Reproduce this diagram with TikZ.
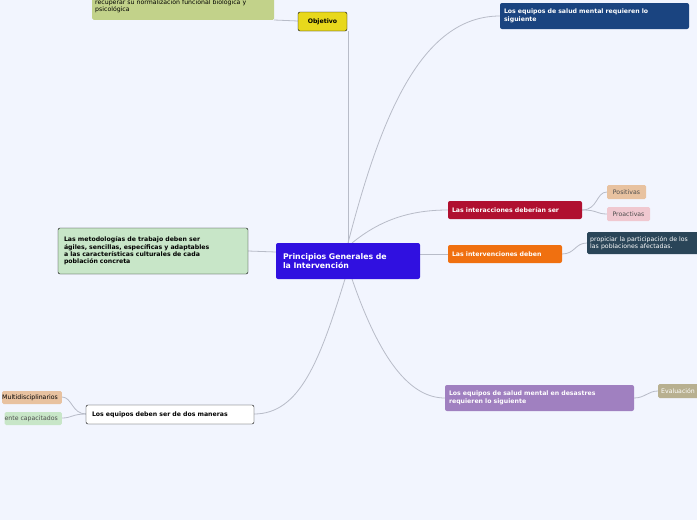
\documentclass[tikz,border=0pt]{standalone}
\usepackage{fontspec}
\setmainfont{DejaVu Sans}
\definecolor{bgc}{HTML}{F2F5FE}
\definecolor{linec}{HTML}{B8BCC8}
\definecolor{centroc}{HTML}{3010E0}
\definecolor{amarillo}{HTML}{E8D81C}
\definecolor{verdeoliva}{HTML}{C2D28A}
\definecolor{azuloscuro}{HTML}{1A4480}
\definecolor{rojo}{HTML}{B01030}
\definecolor{durazno}{HTML}{E8C2A0}
\definecolor{rosa}{HTML}{F0C8D0}
\definecolor{naranja}{HTML}{F07010}
\definecolor{pizarra}{HTML}{2A4558}
\definecolor{lila}{HTML}{A080C0}
\definecolor{caqui}{HTML}{B8B090}
\definecolor{verdeclaro}{HTML}{C8E6C8}
\tikzset{
  topic/.style={rounded corners=2pt, inner sep=0pt, font=\fontsize{6.2}{7.4}\selectfont\bfseries, align=left},
  leaf/.style={rounded corners=1.5pt, inner sep=0pt, font=\fontsize{6.2}{7.4}\selectfont, align=left},
  link/.style={draw=linec, line width=0.8pt}
}
\begin{document}
\begin{tikzpicture}[x=1pt, y=-1pt]
    \useasboundingbox[fill=bgc] (0,0) rectangle (697,520);
    \clip (0,0) rectangle (697,520);

    % connectors
    \draw[link] (348,243) -- (348,31);
    \draw[link] (348,243) .. controls (380,120) and (420,16) .. (500,16);
    \draw[link] (352,243) .. controls (380,220) and (410,210) .. (448,210);
    \draw[link] (420,254) -- (448,254);
    \draw[link] (352,279) .. controls (380,360) and (410,398) .. (445,398);
    \draw[link] (345,279) .. controls (320,360) and (300,414) .. (254,414);
    \draw[link] (276,252) -- (248,251);
    \draw[link] (298,21) -- (274,20);
    \draw[link] (582,210) .. controls (598,210) and (596,192) .. (607,192);
    \draw[link] (582,210) .. controls (598,210) and (596,214) .. (607,214);
    \draw[link] (562,254) .. controls (575,254) and (575,243) .. (587,243);
    \draw[link] (634,398) .. controls (645,398) and (648,391) .. (658,391);
    \draw[link] (86,414) .. controls (72,414) and (72,397) .. (62,397);
    \draw[link] (86,414) .. controls (72,414) and (72,418) .. (62,418);

    % main topic
    \node[topic, fill=centroc, text=white, minimum width=144pt, minimum height=36pt,
          text width=130pt, font=\fontsize{7.8}{9.2}\selectfont\bfseries] (centro) at (348,261)
          {Principios Generales de\\la Intervención};

    % branches
    \node[topic, fill=amarillo, draw=black, minimum width=49pt, minimum height=19pt, align=center] (objetivo) at (322.5,21.5) {Objetivo};
    \node[leaf, fill=verdeoliva, minimum width=182pt, minimum height=30pt, text width=176pt, anchor=south west] (recuperar) at (92,20)
          {\\recuperar su normalización funcional biológica y\\psicológica\vphantom{g}};
    \node[topic, fill=azuloscuro, text=white, minimum width=189pt, minimum height=26pt, text width=181pt] (equiposreq) at (594.5,16)
          {Los equipos de salud mental requieren lo\\siguiente};
    \node[topic, fill=rojo, text=white, minimum width=134pt, minimum height=18pt, text width=126pt] (interacciones) at (515,210)
          {Las interacciones deberían ser};
    \node[leaf, fill=durazno, text=black!70, minimum width=39pt, minimum height=14pt, align=center] (positivas) at (626.5,192) {Positivas};
    \node[leaf, fill=rosa, text=black!70, minimum width=43pt, minimum height=14pt, align=center] (proactivas) at (628.5,214) {Proactivas};
    \node[topic, fill=naranja, text=white, minimum width=114pt, minimum height=18pt, text width=106pt] (intervenciones) at (505,254)
          {Las intervenciones deben};
    \node[leaf, fill=pizarra, text=white, minimum width=125pt, minimum height=22pt, text width=119pt, anchor=west] (propiciar) at (587,243)
          {propiciar la participación de los\\las poblaciones afectadas.};
    \node[topic, fill=lila, text=white, minimum width=189pt, minimum height=26pt, text width=181pt] (desastres) at (539.5,398)
          {Los equipos de salud mental en desastres\\requieren lo siguiente};
    \node[leaf, fill=caqui, text=white, minimum width=50pt, minimum height=14pt, text width=44pt, anchor=west] (evaluacion) at (658,391) {Evaluación};
    \node[topic, fill=verdeclaro, draw=black, minimum width=190pt, minimum height=46pt, text width=178pt] (metodologias) at (153,251)
          {Las metodologías de trabajo deben ser\\ágiles, sencillas, específicas y adaptables\\a las características culturales de cada\\población concreta};
    \node[topic, fill=white, draw=black, minimum width=168pt, minimum height=19pt, text width=156pt] (dosmaneras) at (170,414.5)
          {Los equipos deben ser de dos maneras};
    \node[leaf, fill=durazno, minimum height=13pt, anchor=east] (multi) at (62,397.5) {Multidisciplinarios\hspace{4pt}};
    \node[leaf, fill=verdeclaro, text=black!70, minimum height=13pt, anchor=east] (capacitados) at (62,418.5) {ente capacitados\hspace{4pt}};
\end{tikzpicture}
\end{document}
